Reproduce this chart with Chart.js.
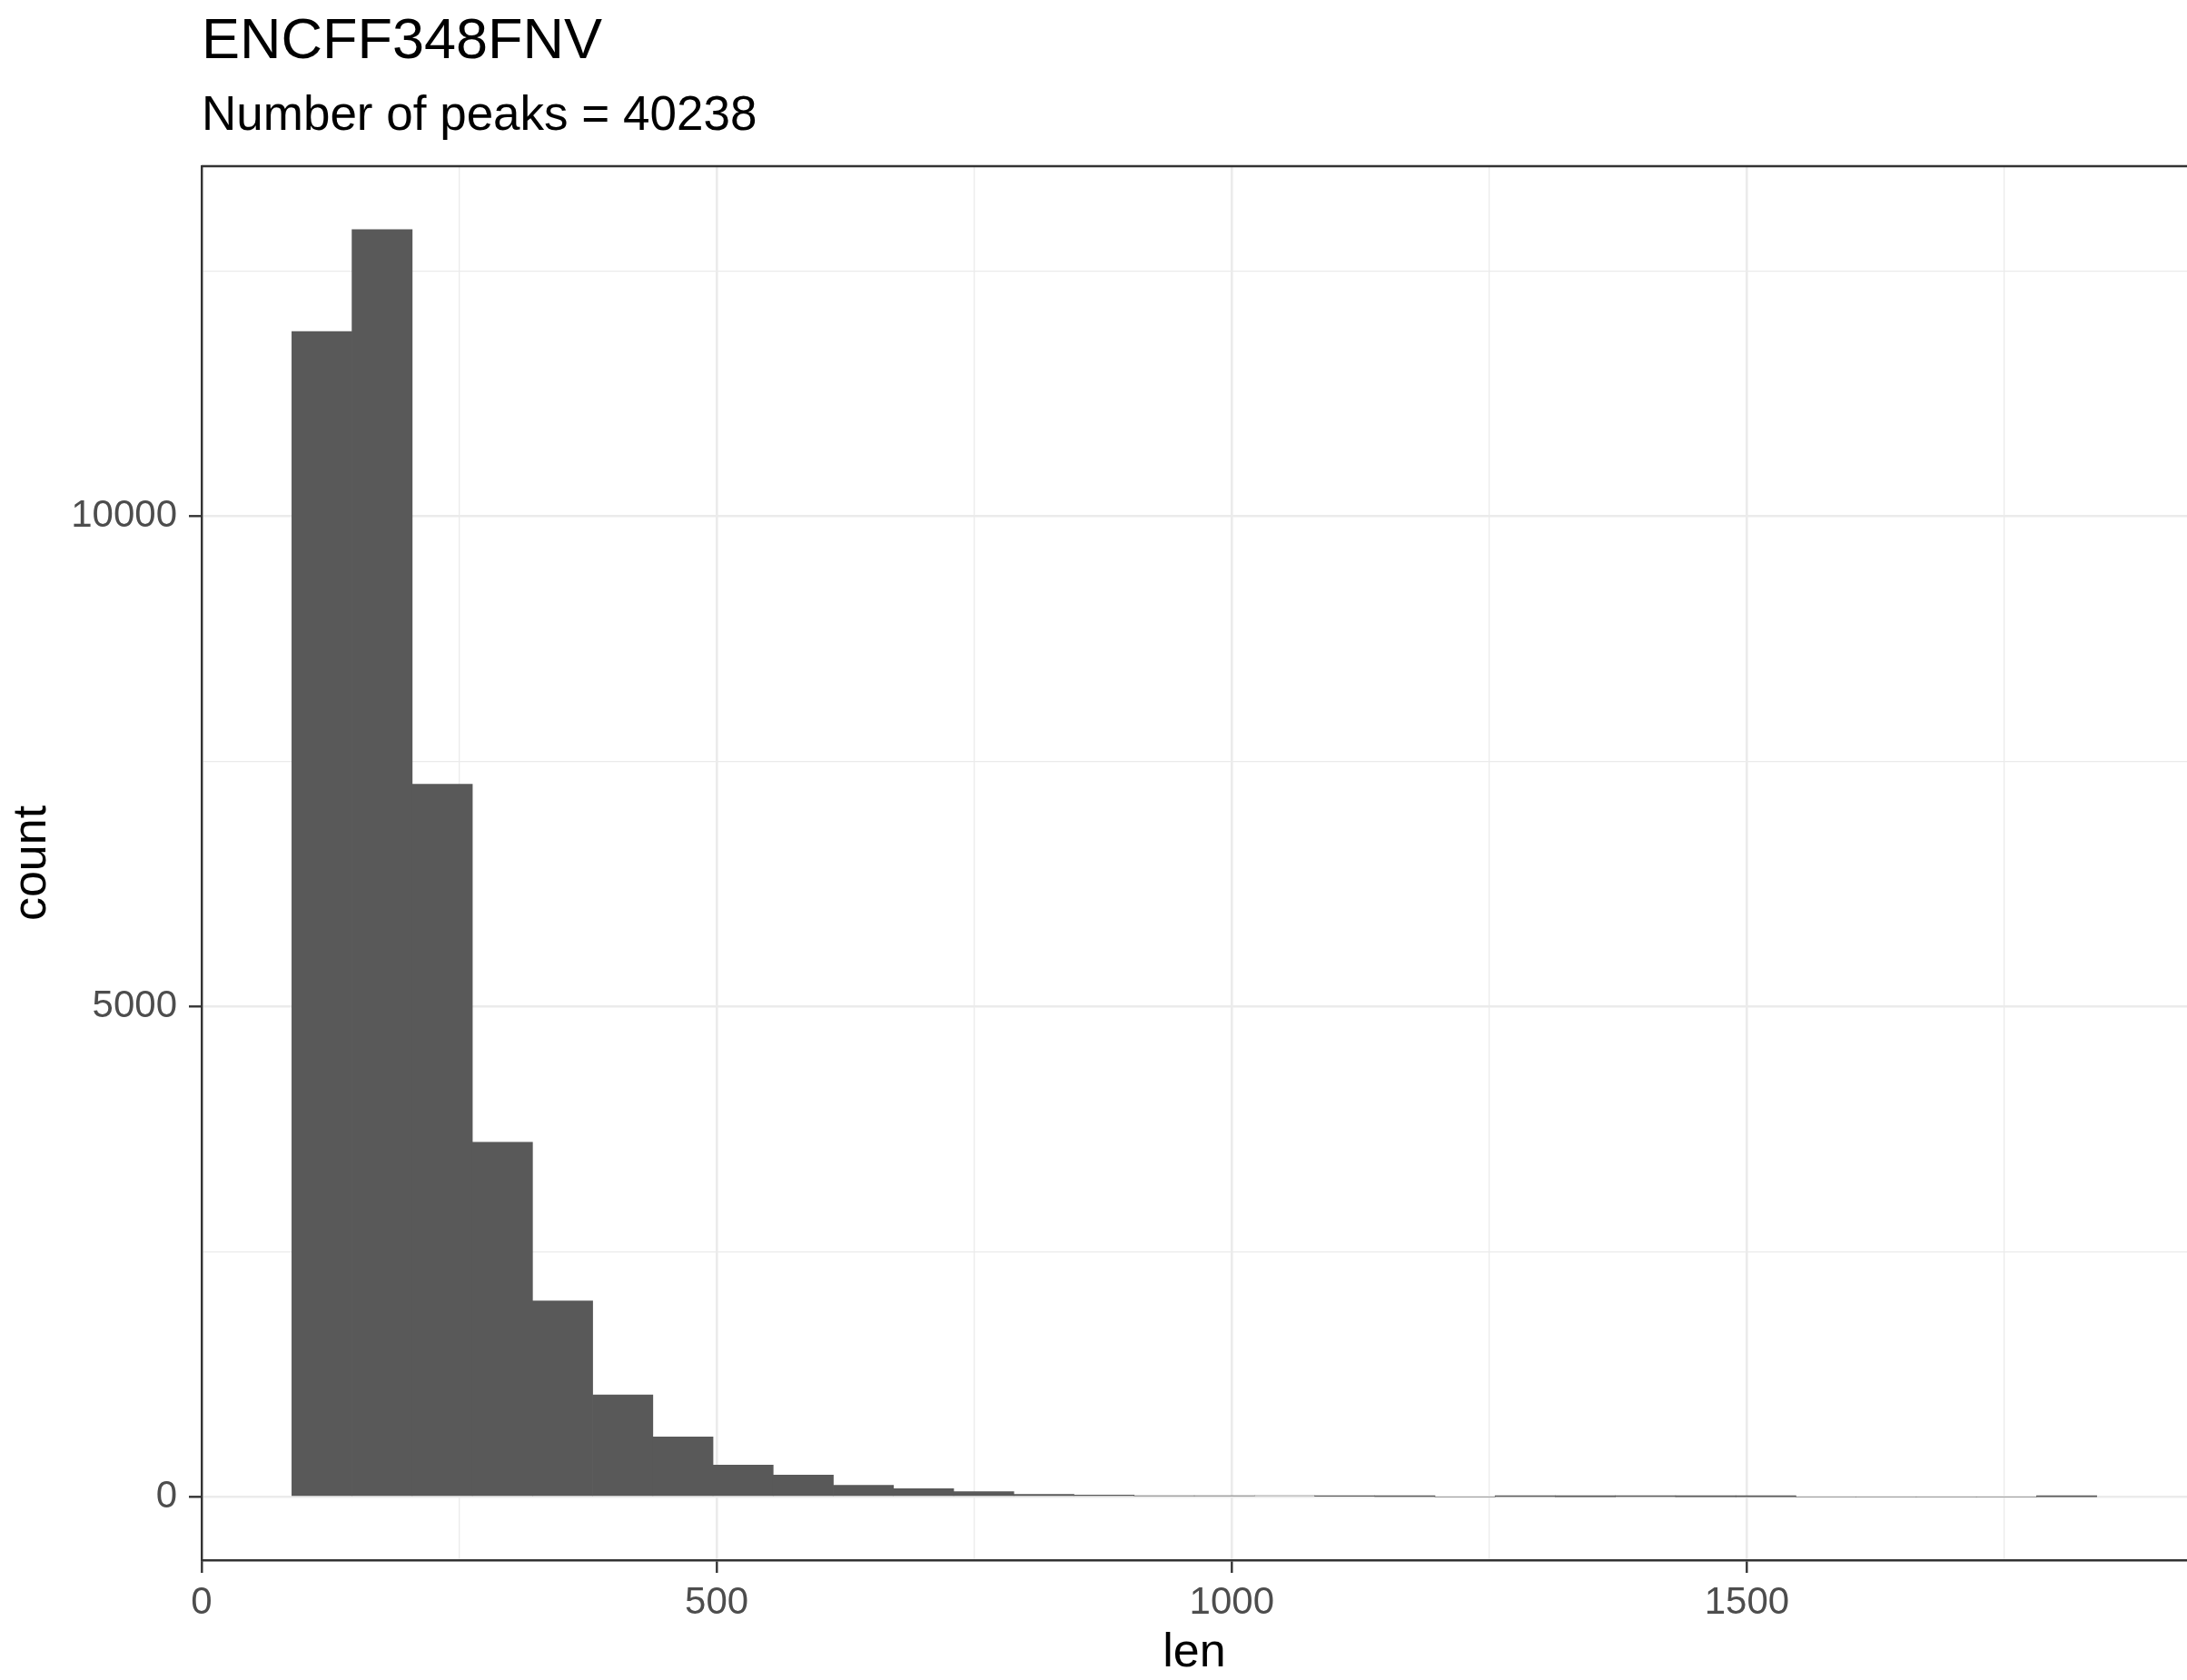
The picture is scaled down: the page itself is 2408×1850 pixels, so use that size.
<!DOCTYPE html>
<html lang="en">
<head>
  <meta charset="UTF-8" />
  <title>ENCFF348FNV | peak lengths</title>
  <script src="https://cdn.jsdelivr.net/npm/chart.js"></script>
  <style>
    html, body { margin: 0; padding: 0; background: #fff; }
    canvas { display: block; }
  </style>
</head>
<body>
  <canvas id="lenChart" width="2408" height="1850"></canvas>

  <script>
    // histogram bins (centre of each 58.4 wide bin) and counts
    const binCenters = [
      116.8, 175.2, 233.6, 292.0, 350.4, 408.8, 467.2, 525.6, 584.0, 642.4,
      700.8, 759.2, 817.6, 876.0, 934.4, 992.8, 1051.2, 1109.6, 1168.0, 1226.4,
      1284.8, 1343.2, 1401.6, 1460.0, 1518.4, 1576.8, 1635.2, 1693.6, 1752.0, 1810.4
    ];
    const peakCounts = [
      11886, 12926, 7269, 3617, 1997, 1040, 611, 324, 222, 117,
      83, 52, 25, 19, 10, 9, 12, 6, 3, 0,
      2, 1, 2, 1, 1, 0, 0, 0, 0, 1
    ];

    // axis ticks
    const xMajorTicks = [0, 500, 1000, 1500];
    const xMinorTicks = [250, 750, 1250, 1750];
    const yMajorTicks = [0, 5000, 10000];
    const yMinorTicks = [2500, 7500, 12500];

    const font = "'Liberation Sans', Arial, Helvetica, sans-serif";
    const ink = '#333333';

    function tickList(major, minor) {
      return major.concat(minor).sort((a, b) => a - b).map(v => ({ value: v }));
    }
    const isMajor = (list, c) => !!(c && c.tick && list.includes(c.tick.value));

    // top edge of the panel (theme_bw style border); right edge is off the canvas
    const panelBorder = {
      id: 'panelBorder',
      afterDraw(chart) {
        const { ctx, chartArea } = chart;
        ctx.save();
        ctx.strokeStyle = ink;
        ctx.lineWidth = 2.4;
        ctx.beginPath();
        ctx.moveTo(chartArea.left, chartArea.top);
        ctx.lineTo(chartArea.right, chartArea.top);
        ctx.stroke();
        ctx.restore();
      }
    };

    const ctx = document.getElementById('lenChart').getContext('2d');
    new Chart(ctx, {
      type: 'bar',
      data: {
        datasets: [{
          label: 'count',
          data: binCenters.map((c, i) => ({ x: c, y: peakCounts[i] })),
          backgroundColor: '#595959',
          borderWidth: 0,
          barPercentage: 1,
          categoryPercentage: 1
        }]
      },
      options: {
        responsive: false,
        devicePixelRatio: 1,
        animation: false,
        layout: { padding: 0 },
        plugins: {
          legend: { display: false },
          tooltip: { enabled: false },
          title: {
            display: true,
            text: 'ENCFF348FNV',
            align: 'start',
            fullSize: false,
            color: '#000',
            font: { family: font, size: 63, weight: 'normal', lineHeight: 1 },
            padding: { top: 15, bottom: 0 }
          },
          subtitle: {
            display: true,
            text: 'Number of peaks = 40238',
            align: 'start',
            fullSize: false,
            color: '#000',
            font: { family: font, size: 53, weight: 'normal', lineHeight: 1 },
            padding: { top: 24, bottom: 28 }
          }
        },
        scales: {
          x: {
            type: 'linear',
            offset: false,
            min: 0,
            max: 1927.2,
            afterBuildTicks: s => { s.ticks = tickList(xMajorTicks, xMinorTicks); },
            afterFit: s => { s.height = 132; },
            ticks: {
              autoSkip: false,
              maxRotation: 0,
              padding: 8,
              color: '#4d4d4d',
              font: { family: font, size: 42 },
              callback: v => xMajorTicks.includes(v) ? String(v) : ''
            },
            grid: {
              offset: false,
              color: '#ebebeb',
              lineWidth: c => isMajor(xMajorTicks, c) ? 2.6 : 1.3,
              tickColor: c => isMajor(xMajorTicks, c) ? ink : 'rgba(0,0,0,0)',
              tickLength: 14,
              tickWidth: 2.4
            },
            border: { display: true, color: ink, width: 2.4 },
            title: {
              display: true,
              text: 'len',
              color: '#000',
              font: { family: font, size: 52, lineHeight: 1 },
              padding: { top: 0, bottom: 3 }
            }
          },
          y: {
            min: -646,
            max: 13572,
            afterBuildTicks: s => { s.ticks = tickList(yMajorTicks, yMinorTicks); },
            afterFit: s => { s.width = 222; },
            ticks: {
              padding: 13,
              color: '#4d4d4d',
              font: { family: font, size: 42 },
              callback: v => yMajorTicks.includes(v) ? String(v) : ''
            },
            grid: {
              offset: false,
              color: '#ebebeb',
              lineWidth: c => isMajor(yMajorTicks, c) ? 2.6 : 1.3,
              tickColor: c => isMajor(yMajorTicks, c) ? ink : 'rgba(0,0,0,0)',
              tickLength: 14,
              tickWidth: 2.4
            },
            border: { display: true, color: ink, width: 2.4 },
            title: {
              display: true,
              text: 'count',
              color: '#000',
              font: { family: font, size: 52, lineHeight: 1 },
              padding: { top: 10, bottom: 0 }
            }
          }
        }
      },
      plugins: [panelBorder]
    });
  </script>
</body>
</html>
